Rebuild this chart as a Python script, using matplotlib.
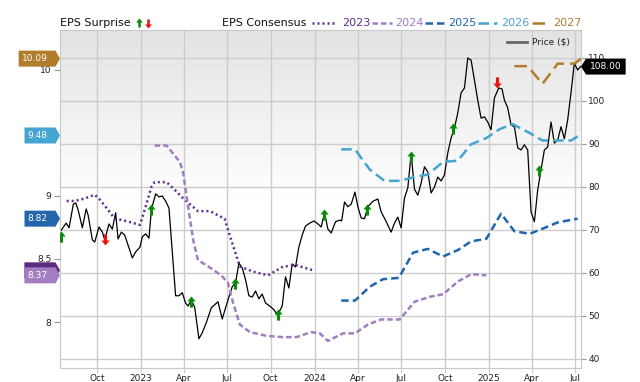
import numpy as np
import pandas as pd
import matplotlib
matplotlib.use("Agg")
import matplotlib.pyplot as plt
import matplotlib.dates as mdates
from matplotlib.path import Path
from matplotlib.lines import Line2D
from matplotlib.colors import LinearSegmentedColormap

# ---- data ----
price_dates = [
    "2022-07-18", "2022-07-28", "2022-08-03", "2022-08-12", "2022-08-17", "2022-08-22", "2022-08-31",
    "2022-09-08", "2022-09-12", "2022-09-21", "2022-09-26", "2022-10-05", "2022-10-12", "2022-10-17",
    "2022-10-26", "2022-11-02", "2022-11-09", "2022-11-14", "2022-11-21", "2022-11-28", "2022-12-05",
    "2022-12-14", "2022-12-21", "2022-12-30", "2023-01-04", "2023-01-11", "2023-01-18", "2023-01-23",
    "2023-02-01", "2023-02-08", "2023-02-15", "2023-02-22", "2023-03-01", "2023-03-08", "2023-03-15",
    "2023-03-22", "2023-03-29", "2023-04-05", "2023-04-10", "2023-04-17", "2023-04-24", "2023-05-03",
    "2023-05-10", "2023-05-19", "2023-05-29", "2023-06-05", "2023-06-12", "2023-06-21", "2023-06-28",
    "2023-07-05", "2023-07-12", "2023-07-19", "2023-07-26", "2023-08-02", "2023-08-09", "2023-08-16",
    "2023-08-23", "2023-08-30", "2023-09-06", "2023-09-13", "2023-09-20", "2023-09-29", "2023-10-08",
    "2023-10-15", "2023-10-25", "2023-11-01", "2023-11-08", "2023-11-15", "2023-11-22", "2023-11-29",
    "2023-12-06", "2023-12-13", "2023-12-22", "2023-12-31", "2024-01-08", "2024-01-15", "2024-01-22",
    "2024-01-29", "2024-02-05", "2024-02-14", "2024-02-23", "2024-02-27", "2024-03-04", "2024-03-11",
    "2024-03-18", "2024-03-26", "2024-04-01", "2024-04-08", "2024-04-15", "2024-04-22", "2024-05-03",
    "2024-05-13", "2024-05-20", "2024-05-29", "2024-06-10", "2024-06-17", "2024-06-24", "2024-07-01",
    "2024-07-08", "2024-07-15", "2024-07-22", "2024-07-29", "2024-08-05", "2024-08-12", "2024-08-19",
    "2024-08-26", "2024-09-02", "2024-09-09", "2024-09-16", "2024-09-23", "2024-09-30", "2024-10-07",
    "2024-10-14", "2024-10-21", "2024-10-28", "2024-11-04", "2024-11-11", "2024-11-18", "2024-11-25",
    "2024-12-02", "2024-12-09", "2024-12-16", "2024-12-23", "2024-12-30", "2025-01-06", "2025-01-13",
    "2025-01-22", "2025-01-29", "2025-02-03", "2025-02-10", "2025-02-17", "2025-02-24", "2025-03-03",
    "2025-03-10", "2025-03-17", "2025-03-24", "2025-03-31", "2025-04-07", "2025-04-14", "2025-04-21",
    "2025-04-28", "2025-05-05", "2025-05-12", "2025-05-19", "2025-05-26", "2025-06-02", "2025-06-09",
    "2025-06-16", "2025-06-23", "2025-06-30", "2025-07-07", "2025-07-13",
]
price_vals = [
    70.0, 71.6, 70.5, 76.0, 76.3, 74.7, 70.5,
    74.9, 73.5, 67.7, 67.2, 70.7, 69.5, 67.7,
    71.4, 70.2, 74.0, 67.9, 69.5, 68.8, 66.5,
    63.5, 64.9, 66.0, 68.4, 69.1, 68.1, 74.7,
    78.4, 77.7, 77.9, 76.7, 75.1, 64.9, 54.7,
    54.7, 55.4, 53.0, 52.3, 53.7, 52.1, 44.7,
    46.1, 48.6, 51.9, 52.6, 53.3, 49.3, 51.9,
    54.4, 56.8, 57.7, 62.3, 61.2, 58.4, 54.7,
    54.4, 55.8, 54.0, 55.1, 53.0, 52.3, 51.4,
    50.2, 52.3, 59.1, 56.5, 62.1, 61.4, 66.0,
    68.8, 70.9, 71.6, 72.1, 71.4, 70.7, 74.0,
    70.2, 69.3, 71.9, 72.3, 72.1, 76.5, 75.4,
    76.0, 78.8, 75.4, 72.8, 72.6, 75.4, 76.7,
    77.2, 74.2, 72.3, 69.5, 71.6, 73.0, 70.5,
    77.4, 79.8, 87.7, 79.5, 78.1, 80.9, 84.7,
    83.5, 78.6, 80.0, 82.3, 81.4, 82.8, 87.9,
    91.4, 93.7, 97.2, 101.9, 103.0, 110.0, 109.5,
    104.9, 100.2, 96.0, 96.3, 95.1, 93.3, 100.7,
    103.0, 102.8, 100.2, 98.4, 94.4, 94.0, 89.1,
    88.6, 89.8, 88.6, 74.2, 71.9, 79.3, 84.0,
    88.6, 89.3, 95.1, 90.2, 90.9, 94.0, 91.2,
    95.6, 101.9, 108.8, 107.2, 108.0,
]

eps23_dates = ["2022-07-29", "2022-08-15", "2022-09-05", "2022-09-26", "2022-10-07", "2022-10-24",
               "2022-11-07", "2022-11-21", "2022-12-12", "2022-12-30", "2023-01-09", "2023-01-23",
               "2023-01-30", "2023-02-24", "2023-03-13", "2023-03-31", "2023-05-01", "2023-05-26",
               "2023-06-26", "2023-07-10", "2023-07-28", "2023-08-25", "2023-09-25", "2023-10-27",
               "2023-11-24", "2023-12-29"]
eps23_vals = [8.96, 8.96, 8.98, 9.01, 8.97, 8.89, 8.82, 8.81, 8.79, 8.77, 8.89, 9.07,
              9.11, 9.11, 9.05, 8.98, 8.88, 8.88, 8.82, 8.65, 8.44, 8.40, 8.37, 8.44, 8.45, 8.41]

eps24_dates = ["2023-01-30", "2023-02-24", "2023-03-24", "2023-03-31", "2023-04-10", "2023-04-21",
               "2023-05-01", "2023-05-19", "2023-06-19", "2023-07-03", "2023-07-14", "2023-07-28",
               "2023-08-18", "2023-09-22", "2023-10-27", "2023-11-24", "2023-12-25", "2024-01-12",
               "2024-01-29", "2024-03-01", "2024-03-26", "2024-04-22", "2024-05-20", "2024-06-28",
               "2024-07-29", "2024-08-30", "2024-09-27", "2024-10-28", "2024-11-25", "2024-12-27"]
eps24_vals = [9.40, 9.40, 9.27, 9.18, 8.92, 8.65, 8.49, 8.45, 8.37, 8.31, 8.15, 7.98,
              7.92, 7.89, 7.88, 7.88, 7.92, 7.91, 7.85, 7.91, 7.91, 7.98, 8.02, 8.02,
              8.16, 8.20, 8.22, 8.32, 8.38, 8.37]

eps25_dates = ["2024-02-26", "2024-03-26", "2024-04-26", "2024-05-24", "2024-06-26", "2024-07-26",
               "2024-08-26", "2024-09-27", "2024-10-28", "2024-11-25", "2024-12-27", "2025-01-27",
               "2025-02-24", "2025-03-28", "2025-04-24", "2025-05-26", "2025-07-07"]
eps25_vals = [8.17, 8.17, 8.28, 8.34, 8.35, 8.55, 8.58, 8.52, 8.57, 8.64, 8.66, 8.86,
              8.72, 8.70, 8.74, 8.79, 8.82]

eps26_dates = ["2024-02-26", "2024-03-26", "2024-04-26", "2024-05-27", "2024-06-28", "2024-07-29",
               "2024-08-26", "2024-09-27", "2024-10-28", "2024-11-25", "2024-12-27", "2025-01-24",
               "2025-02-20", "2025-03-28", "2025-04-24", "2025-05-26", "2025-06-23", "2025-07-10"]
eps26_vals = [9.37, 9.37, 9.21, 9.12, 9.12, 9.15, 9.17, 9.27, 9.28, 9.41, 9.46, 9.53,
              9.57, 9.50, 9.44, 9.44, 9.44, 9.48]

eps27_dates = ["2025-02-24", "2025-03-24", "2025-04-24", "2025-05-26", "2025-06-30", "2025-07-14"]
eps27_vals = [10.03, 10.03, 9.89, 10.05, 10.05, 10.09]

beat_dates = ["2022-07-18", "2023-01-23", "2023-04-17", "2023-07-17", "2023-10-16",
              "2024-01-21", "2024-04-21", "2024-07-22", "2024-10-18", "2025-04-17"]
beat_vals = [69.8, 76.0, 54.7, 58.8, 51.7, 74.9, 76.0, 88.4, 94.9, 85.1]
miss_dates = ["2022-10-17", "2025-01-19"]
miss_vals = [66.5, 103.0]

series = [
    ("2023", eps23_dates, eps23_vals, "#5e2d8c", (0, (0.8, 1.2))),
    ("2024", eps24_dates, eps24_vals, "#a27dc1", (0, (2.2, 1.2))),
    ("2025", eps25_dates, eps25_vals, "#2166ac", (0, (3, 1.6))),
    ("2026", eps26_dates, eps26_vals, "#45a4d1", (0, (4.2, 2))),
    ("2027", eps27_dates, eps27_vals, "#b07d2b", (0, (5, 2.4))),
]
# 2023 badge sits behind the 2024 one, its number is not readable
badges = [(" " * 7, 8.41, "#5a2b7e"), ("8.37", 8.37, "#a27dc1"), ("8.82", 8.82, "#2466ab"),
          ("9.48", 9.48, "#45a4d1"), ("10.09", 10.09, "#b07d2b")]
last_price = 108.00
price_ticks = [40, 50, 60, 70, 80, 90, 100, 110]
eps_ticks = [8, 8.5, 9, 10]
eps_tick_labels = ["8", "8.5", "9", "10"]

W, H = 640, 382
plt.rcParams["font.family"] = "DejaVu Sans"


def fx(x):
    return x / W


def fy(y):
    return 1 - y / H


up_arrow = Path([(0, 0), (0.75, -0.9), (0.28, -0.9), (0.28, -2), (-0.28, -2), (-0.28, -0.9), (-0.75, -0.9), (0, 0)],
                closed=True)
down_arrow = Path([(0, 0), (0.75, 0.9), (0.28, 0.9), (0.28, 2), (-0.28, 2), (-0.28, 0.9), (-0.75, 0.9), (0, 0)],
                  closed=True)


def tag_right(x0, y0, w, h, ms):
    cy = y0 + h / 2
    l, r = x0 - 3, x0 + w + 8
    return Path([(l, cy - 8), (r, cy - 8), (r + 4.5, cy), (r, cy + 8), (l, cy + 8), (l, cy - 8)], closed=True)


def tag_left(x0, y0, w, h, ms):
    cy = y0 + h / 2
    l, r = x0 - 4, x0 + w + 4
    return Path([(l, cy - 8), (r, cy - 8), (r, cy + 8), (l, cy + 8), (l - 5, cy), (l, cy - 8)], closed=True)


fig = plt.figure(figsize=(6.4, 3.82), dpi=100)
ax = fig.add_axes([fx(60), fy(368), (581 - 60) / W, (368 - 30) / H])
ax_e = ax.twinx()

# background gradient
grad = np.linspace(0, 1, 200).reshape(-1, 1)
cmap = LinearSegmentedColormap.from_list("bg", [(0, "#ffffff"), (0.5, "#ffffff"), (1, "#e3e3e3")])
ax.imshow(grad, extent=[0, 1, 0, 1], transform=ax.transAxes, aspect="auto", cmap=cmap,
          origin="lower", zorder=0)
ax.set_axisbelow(True)

# price + surprises
ax.plot(pd.to_datetime(price_dates), price_vals, color="black", lw=0.9, zorder=3)
ax.plot(pd.to_datetime(beat_dates), beat_vals, ls="none", marker=up_arrow, ms=16,
        color="#0a8a0a", mec="none", zorder=5)
ax.plot(pd.to_datetime(miss_dates), miss_vals, ls="none", marker=down_arrow, ms=16,
        color="#ee1111", mec="none", zorder=5)

ax.set_xlim(pd.Timestamp("2022-07-15"), pd.Timestamp("2025-07-14"))
ax.set_ylim(37.9, 116.5)
ax.yaxis.tick_right()
ax.set_yticks(price_ticks)
ax.xaxis.set_major_locator(mdates.MonthLocator(bymonth=[1, 4, 7, 10]))
ax.xaxis.set_major_formatter(plt.FuncFormatter(
    lambda x, pos: str(mdates.num2date(x).year) if mdates.num2date(x).month == 1
    else mdates.num2date(x).strftime("%b")))
ax.grid(True, color="#cccccc", lw=1)
ax.tick_params(axis="y", labelsize=6.5, length=3.6, pad=1.5, color="#999999", labelcolor="#222222")
ax.tick_params(axis="x", labelsize=6.5, length=3.5, pad=1, color="#cccccc", labelcolor="#222222")
for s in ax.spines.values():
    s.set_color("#c8c8c8")

# EPS consensus lines
for label, d, v, c, ls in series:
    ax_e.plot(pd.to_datetime(d), v, color=c, lw=1.8, ls=ls, zorder=4)
ax_e.set_ylim(7.635, 10.317)
ax_e.yaxis.tick_left()
ax_e.set_yticks(eps_ticks)
ax_e.set_yticklabels(eps_tick_labels)
ax_e.tick_params(axis="y", labelsize=6.5, length=4.3, pad=2, color="#999999", labelcolor="#222222")
for s in ax_e.spines.values():
    s.set_visible(False)

for txt, v, c in badges:
    ax_e.annotate(txt, xy=(0, v), xycoords=("axes fraction", "data"), xytext=(-9, 0),
                  textcoords="offset points", ha="right", va="center", fontsize=6.5, color="white",
                  bbox=dict(boxstyle=tag_right, fc=c, ec="none"), annotation_clip=False, zorder=6)

ax_e.annotate(f"{last_price:.2f}", xy=(1, (last_price - 37.9) / (116.5 - 37.9)), xycoords="axes fraction",
              xytext=(6.5, 0), textcoords="offset points", ha="left", va="center", fontsize=6.5,
              color="white", bbox=dict(boxstyle=tag_left, fc="black", ec="none"),
              annotation_clip=False, zorder=6)

# header legend
fig.text(fx(60), fy(23), "EPS Surprise", fontsize=8, va="center", color="#111111")
fig.add_artist(Line2D([fx(138.5)], [fy(18)], transform=fig.transFigure, marker=up_arrow, ms=13,
                      color="#0a8a0a", mec="none", ls="none"))
fig.add_artist(Line2D([fx(148)], [fy(28)], transform=fig.transFigure, marker=down_arrow, ms=13,
                      color="#ee1111", mec="none", ls="none"))
fig.text(fx(222), fy(23), "EPS Consensus", fontsize=8, va="center", color="#111111")
legend_x = [(312, 337, 342), (372, 392, 395), (425, 445, 448), (478, 497, 501), (532, 550, 553)]
for (label, d, v, c, ls), (x0, x1, xt) in zip(series, legend_x):
    fig.add_artist(Line2D([fx(x0), fx(x1)], [fy(23), fy(23)], transform=fig.transFigure,
                          color=c, lw=1.8, ls=ls))
    fig.text(fx(xt), fy(23), label, fontsize=8, va="center", color=c)

fig.add_artist(Line2D([fx(507), fx(527)], [fy(42), fy(42)], transform=fig.transFigure, color="#666666", lw=2))
fig.text(fx(532), fy(42), "Price ($)", fontsize=6.5, va="center", color="#222222")

fig.savefig("out.png", dpi=100)
